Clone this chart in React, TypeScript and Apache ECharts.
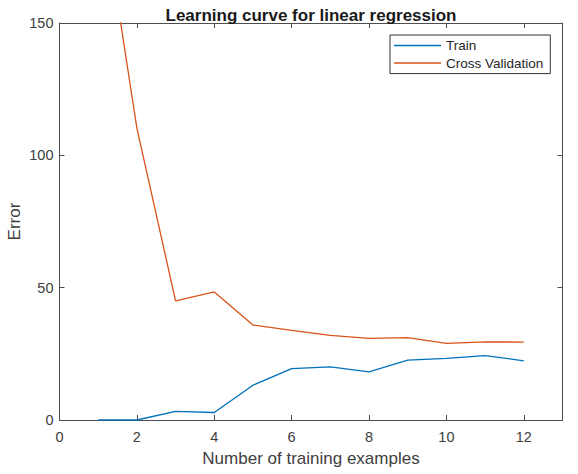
import React, { useEffect, useRef } from "react";
import * as echarts from "echarts";

const trainingExamples = [1, 2, 3, 4, 5, 6, 7, 8, 9, 10, 11, 12];
const trainError = [0, 0, 3.29, 2.84, 13.15, 19.44, 20.1, 18.17, 22.61, 23.26, 24.32, 22.37];
const cvError = [205.12, 110.3, 45.01, 48.37, 35.87, 33.83, 31.97, 30.86, 31.14, 28.94, 29.55, 29.43];
const xTicks = { min: 0, max: 13, interval: 2 };
const yTicks = { min: 0, max: 150, interval: 50 };

const AXIS_COLOR = "#4d4d4d";
const TEXT_COLOR = "#404040";
const FONT = "'Liberation Sans', Arial, Helvetica, sans-serif";

export default function App() {
  const ref = useRef<HTMLDivElement>(null);
  useEffect(() => {
    document.body.style.margin = "0";
    if (!ref.current) return;
    const chart = echarts.init(ref.current, undefined, { renderer: "svg" });
    const axisBase = {
      axisLine: { show: true, onZero: false, lineStyle: { color: AXIS_COLOR, width: 1 } },
      axisTick: { show: true, inside: true, length: 5, lineStyle: { color: AXIS_COLOR } },
      splitLine: { show: false },
    };
    chart.setOption({
      animation: false,
      backgroundColor: "#ffffff",
      textStyle: { fontFamily: FONT },
      title: {
        text: "Learning curve for linear regression",
        left: 306,
        top: 2,
        textAlign: "center",
        textStyle: { fontSize: 17, fontWeight: "bold", color: "#1a1a1a", fontFamily: FONT },
      },
      grid: {
        left: 59.5,
        right: 15.5,
        top: 23,
        bottom: 54,
        containLabel: false,
        outerBoundsMode: "none",
      },
      legend: {
        orient: "vertical",
        left: 390,
        top: 35,
        padding: [3, 7, 3, 4],
        itemGap: 2.6,
        itemWidth: 47,
        itemHeight: 1.5,
        icon: "rect",
        borderColor: "#333333",
        borderWidth: 1,
        backgroundColor: "#ffffff",
        textStyle: { fontSize: 13.5, lineHeight: 15, color: "#262626", fontFamily: FONT },
        data: ["Train", "Cross Validation"],
      },
      xAxis: [
        {
          type: "value",
          ...xTicks,
          ...axisBase,
          position: "bottom",
          name: "Number of training examples",
          nameLocation: "middle",
          nameGap: 30,
          nameMoveOverlap: false,
          nameTextStyle: { fontSize: 17, color: TEXT_COLOR, fontFamily: FONT },
          axisLabel: { fontSize: 14.5, color: TEXT_COLOR, margin: 9, showMaxLabel: false, fontFamily: FONT },
        },
        {
          type: "value",
          ...xTicks,
          ...axisBase,
          position: "top",
          axisLabel: { show: false },
        },
      ],
      yAxis: [
        {
          type: "value",
          ...yTicks,
          ...axisBase,
          position: "left",
          name: "Error",
          nameLocation: "middle",
          nameGap: 37,
          nameMoveOverlap: false,
          nameTextStyle: { fontSize: 17, color: TEXT_COLOR, fontFamily: FONT },
          axisLabel: { fontSize: 14.5, color: TEXT_COLOR, margin: 6, fontFamily: FONT },
        },
        {
          type: "value",
          ...yTicks,
          ...axisBase,
          position: "right",
          axisLabel: { show: false },
        },
      ],
      series: [
        {
          name: "Train",
          type: "line",
          data: trainingExamples.map((x, i) => [x, trainError[i]]),
          showSymbol: false,
          symbol: "none",
          clip: true,
          lineStyle: { color: "#0072BD", width: 1.3 },
          itemStyle: { color: "#0072BD" },
        },
        {
          name: "Cross Validation",
          type: "line",
          data: trainingExamples.map((x, i) => [x, cvError[i]]),
          showSymbol: false,
          symbol: "none",
          clip: true,
          lineStyle: { color: "#D95319", width: 1.3 },
          itemStyle: { color: "#D95319" },
        },
      ],
    });
    return () => chart.dispose();
  }, []);
  return <div ref={ref} style={{ width: 578, height: 474 }} />;
}
